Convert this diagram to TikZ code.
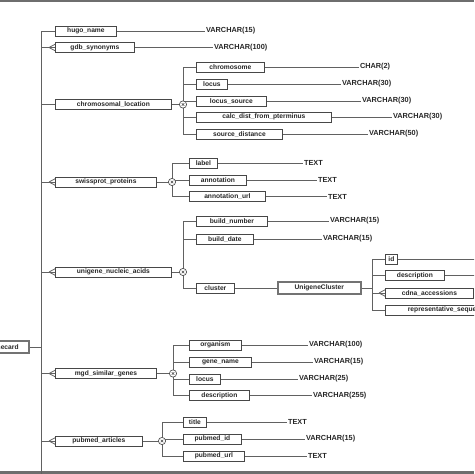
\documentclass[tikz,border=0pt]{standalone}
\usepackage{fontspec}
\setmainfont{Liberation Sans}
\usepackage{tikz}
\newcommand{\fldfont}{\fontsize{5}{6}\selectfont\bfseries}
\newcommand{\typfont}{\fontsize{5.5}{6}\selectfont\bfseries}
\tikzset{every picture/.style={line width=0.75pt}}
\tikzset{
  ln/.style={draw=black!62, line width=0.6pt},
  fld/.style={draw=black!72, line width=0.6pt, fill=white, anchor=west, minimum height=7.5pt, inner sep=0pt, text=black!85, font=\fldfont},
  ent/.style={fld, draw=black!55, line width=1.2pt, minimum height=9pt},
  w/.style={minimum width=#1*0.75pt},
  typ/.style={anchor=west, inner sep=0.4pt, text=black!85, font=\typfont},
  xo/.style={circle, draw=black!70, fill=white, minimum size=5.4pt, inner sep=0pt, line width=0.5pt,
    path picture={\draw[line width=0.35pt] ([shift={(-1pt,-1pt)}]path picture bounding box.center) -- ([shift={(1pt,1pt)}]path picture bounding box.center)
      ([shift={(-1pt,1pt)}]path picture bounding box.center) -- ([shift={(1pt,-1pt)}]path picture bounding box.center);}}
}

\begin{document}
\begin{tikzpicture}[x=0.75pt,y=0.75pt,yscale=-1,xscale=1]
		\useasboundingbox (0,0) rectangle (474,474);
		\clip (0,0) rectangle (474,474);
		
		%frame bars
		\fill [black!57] (0,0) rectangle (474,2.3);
		\fill [black!57] (0,471) rectangle (474,474);
		
		%Genecard attributes
		\node [fld, w=61] (hugo) at (55,31) {hugo\_name};
		\node [fld, w=79] (gdb) at (55,47.5) {gdb\_synonyms};
		\node [fld, w=116] (chromloc) at (55,104.5) {chromosomal\_location};
		\node [fld, w=101] (swiss) at (55,182) {swissprot\_proteins};
		\node [fld, w=116] (unigene) at (55,272) {unigene\_nucleic\_acids};
		\node [fld, w=101] (mgd) at (55,373.5) {mgd\_similar\_genes};
		\node [fld, w=87] (pubmed) at (55,441) {pubmed\_articles};
		\node [ent, w=52, anchor=east] (gc) at (30,347) {Genecard};
		
		\node [typ] (t_hugo) at (205,31) {VARCHAR(15)};
		\node [typ] (t_gdb) at (213,47.5) {VARCHAR(100)};
		
		%chromosomal_location
		\node [fld, w=68] (chrom) at (196,67) {chromosome};
		\node [fld, w=31] (cl_locus) at (196,84) {locus};
		\node [fld, w=70] (locsrc) at (196,101) {locus\_source};
		\node [fld, w=135] (calc) at (196,117) {calc\_dist\_from\_pterminus};
		\node [fld, w=86] (srcdist) at (196,134) {source\_distance};
		\node [typ] (t_chrom) at (359,67) {CHAR(2)};
		\node [typ] (t_cl_locus) at (341,84) {VARCHAR(30)};
		\node [typ] (t_locsrc) at (361,101) {VARCHAR(30)};
		\node [typ] (t_calc) at (392,117) {VARCHAR(30)};
		\node [typ] (t_srcdist) at (368,134) {VARCHAR(50)};
		
		%swissprot_proteins
		\node [fld, w=28] (label) at (189,163) {label};
		\node [fld, w=57] (annot) at (189,180) {annotation};
		\node [fld, w=76] (annoturl) at (189,196.5) {annotation\_url};
		\node [typ] (t_label) at (303,163) {TEXT};
		\node [typ] (t_annot) at (317,180) {TEXT};
		\node [typ] (t_annoturl) at (327,196.5) {TEXT};
		
		%unigene_nucleic_acids
		\node [fld, w=71] (buildno) at (196,221) {build\_number};
		\node [fld, w=57] (builddate) at (196,239) {build\_date};
		\node [fld, w=38] (cluster) at (196,288) {cluster};
		\node [typ] (t_buildno) at (329,221) {VARCHAR(15)};
		\node [typ] (t_builddate) at (322,239) {VARCHAR(15)};
		\node [ent, w=83] (uc) at (277,288) {UnigeneCluster};
		
		%UnigeneCluster
		\node [fld, w=12] (uc_id) at (385,259.5) {id};
		\node [fld, w=59] (uc_desc) at (385,275.5) {description};
		\node [fld, w=88] (cdna) at (385,293) {cdna\_accessions};
		\node [fld, w=125] (repseq) at (385,310) {representative\_sequence};
		\coordinate (idend) at (480,259.5);
		\coordinate (descend) at (480,275.5);
		
		%mgd_similar_genes
		\node [fld, w=52] (organism) at (189,345) {organism};
		\node [fld, w=62] (genename) at (189,362) {gene\_name};
		\node [fld, w=31] (mg_locus) at (189,379) {locus};
		\node [fld, w=60] (mg_desc) at (189,395.5) {description};
		\node [typ] (t_organism) at (308,345) {VARCHAR(100)};
		\node [typ] (t_genename) at (313,362) {VARCHAR(15)};
		\node [typ] (t_mg_locus) at (298,379) {VARCHAR(25)};
		\node [typ] (t_mg_desc) at (312,395.5) {VARCHAR(255)};
		
		%pubmed_articles
		\node [fld, w=23] (title) at (183,422) {title};
		\node [fld, w=58] (pmid) at (183,439) {pubmed\_id};
		\node [fld, w=61] (pmurl) at (183,456) {pubmed\_url};
		\node [typ] (t_title) at (287,422) {TEXT};
		\node [typ] (t_pmid) at (305,439) {VARCHAR(15)};
		\node [typ] (t_pmurl) at (307,456) {TEXT};
		
		%trunk
		\coordinate (tbot) at (41,480);
		\draw [ln] (hugo.west) -| (tbot);
		\draw [ln] (gc.east) -- (tbot |- gc.east);
		\foreach \n in {gdb,chromloc,swiss,unigene,mgd,pubmed}
			\draw [ln] (tbot |- \n.west) -- (\n.west);
		
		%attribute to type
		\foreach \a in {hugo,gdb,chrom,cl_locus,locsrc,calc,srcdist,label,annot,annoturl,buildno,builddate,organism,genename,mg_locus,mg_desc,title,pmid,pmurl}
			\draw [ln] (\a.east) -- (t_\a.west);
		\draw [ln] (uc_id.east) -- (idend);
		\draw [ln] (uc_desc.east) -- (descend);
		\draw [ln] (cluster.east) -- (uc.west);
		
		%branches
		\coordinate (x1) at (183,104.5);
		\coordinate (x2) at (172,182);
		\coordinate (x3) at (183,272);
		\coordinate (x4) at (173,373.5);
		\coordinate (x5) at (162,441);
		\coordinate (ub) at (372.5,288);
		\draw [ln] (chromloc.east) -- (x1);
		\foreach \c in {chrom,cl_locus,locsrc,calc,srcdist} \draw [ln] (x1) |- (\c.west);
		\draw [ln] (swiss.east) -- (x2);
		\foreach \c in {label,annot,annoturl} \draw [ln] (x2) |- (\c.west);
		\draw [ln] (unigene.east) -- (x3);
		\foreach \c in {buildno,builddate,cluster} \draw [ln] (x3) |- (\c.west);
		\draw [ln] (mgd.east) -- (x4);
		\foreach \c in {organism,genename,mg_locus,mg_desc} \draw [ln] (x4) |- (\c.west);
		\draw [ln] (pubmed.east) -- (x5);
		\foreach \c in {title,pmid,pmurl} \draw [ln] (x5) |- (\c.west);
		\draw [ln] (uc.east) -- (ub);
		\foreach \c in {uc_id,uc_desc,cdna,repseq} \draw [ln] (ub) |- (\c.west);
		
		%crow's feet
		\foreach \n in {gdb,swiss,unigene,mgd,pubmed,cdna}
			\draw [ln] ([xshift=-4.5pt]\n.west) -- ([yshift=2.4pt]\n.west) ([xshift=-4.5pt]\n.west) -- ([yshift=-2.4pt]\n.west);
		
		\node [xo] (o1) at (x1) {};
		\node [xo] (o2) at (x2) {};
		\node [xo] (o3) at (x3) {};
		\node [xo] (o4) at (x4) {};
		\node [xo] (o5) at (x5) {};
		
\end{tikzpicture}
\end{document}
